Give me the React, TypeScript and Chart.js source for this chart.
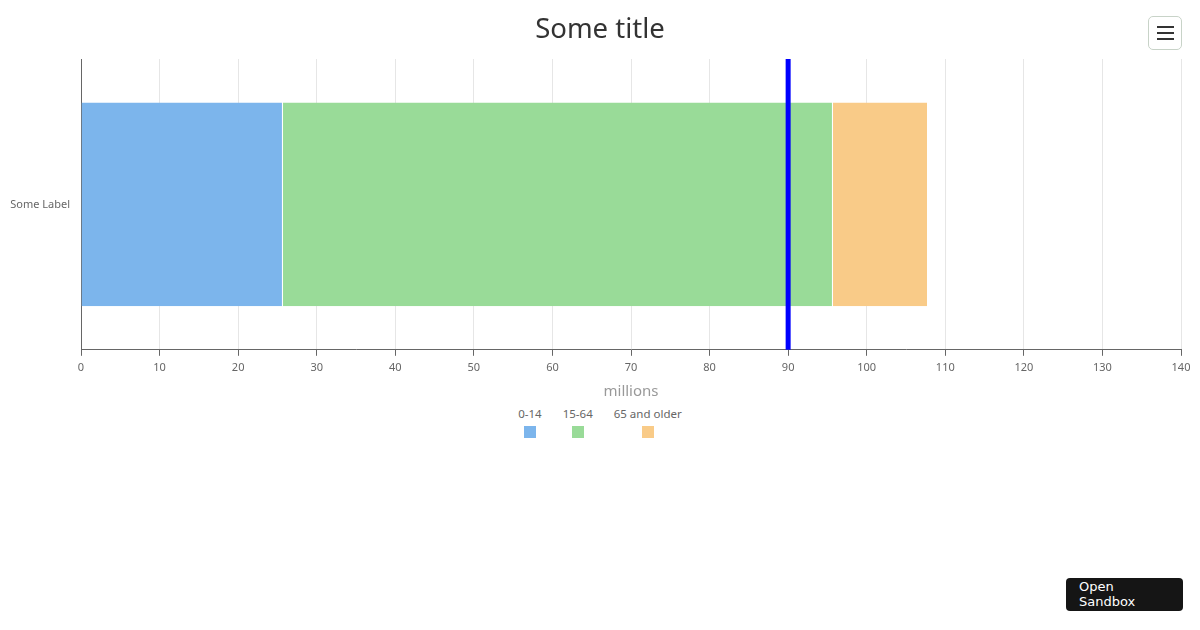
import { useEffect, useRef } from 'react';
import { Chart, registerables } from 'chart.js';
import type { ChartConfiguration, Plugin } from 'chart.js';

Chart.register(...registerables);

const categories = ['Some Label'];
const seriesNames = ['0-14', '15-64', '65 and older'];
const seriesColors = ['#7cb5ec', '#99db98', '#f9cb88'];
const youngValues = [25.7];
const workingValues = [70.0];
const olderValues = [12.1];
const markerValue = [90];
const xTicks = [0, 10, 20, 30, 40, 50, 60, 70, 80, 90, 100, 110, 120, 130, 140];

const FONT = '"Noto Sans", sans-serif';

const markerLine: Plugin<'bar'> = {
  id: 'markerLine',
  afterDatasetsDraw(chart) {
    const { ctx, chartArea, scales } = chart;
    const x = scales.x.getPixelForValue(markerValue[0]);
    ctx.save();
    ctx.strokeStyle = '#0000ff';
    ctx.lineWidth = 5;
    ctx.beginPath();
    ctx.moveTo(x, chartArea.top);
    ctx.lineTo(x, chartArea.bottom);
    ctx.stroke();
    ctx.restore();
  },
};

// title centred on the whole canvas, not on the padded box
const pageTitle: Plugin<'bar'> = {
  id: 'pageTitle',
  afterDraw(chart) {
    const { ctx, width } = chart;
    ctx.save();
    ctx.fillStyle = '#333333';
    ctx.font = `27.5px ${FONT}`;
    ctx.textAlign = 'center';
    ctx.textBaseline = 'middle';
    ctx.fillText('Some title', width / 2, 30);
    ctx.restore();
  },
};

function PopulationChart() {
  const chartRef = useRef<HTMLCanvasElement>(null);
  const chartInstance = useRef<Chart | null>(null);

  useEffect(() => {
    if (!chartRef.current) return;
    const values = [youngValues, workingValues, olderValues];

    const config: ChartConfiguration<'bar'> = {
      type: 'bar',
      data: {
        labels: categories,
        datasets: seriesNames.map((name, i) => ({
          label: name,
          data: values[i],
          backgroundColor: seriesColors[i],
          borderColor: '#ffffff',
          borderWidth: { right: 1 },
          borderSkipped: false,
          barPercentage: 1,
          categoryPercentage: 0.7,
        })),
      },
      options: {
        indexAxis: 'y',
        responsive: false,
        animation: false,
        layout: { padding: { top: 59, right: 19, bottom: 1, left: 0 } },
        plugins: {
          legend: { display: false },
          tooltip: { enabled: false },
          title: { display: false },
        },
        scales: {
          x: {
            type: 'linear',
            stacked: true,
            min: 0,
            max: 140,
            afterBuildTicks: (axis) => {
              axis.ticks = xTicks.map((v) => ({ value: v }));
            },
            grid: { color: '#e6e6e6', tickColor: '#666666', tickLength: 6, drawOnChartArea: true },
            border: { color: '#666666', width: 1 },
            ticks: { color: '#666666', font: { family: FONT, size: 11 }, padding: 5, maxRotation: 0 },
            title: {
              display: true,
              text: 'millions',
              color: '#999999',
              font: { family: FONT, size: 15 },
              padding: { top: 4, bottom: 4 },
            },
          },
          y: {
            stacked: true,
            afterFit: (axis) => {
              axis.width = 81;
            },
            grid: { display: false, drawTicks: false },
            border: { color: '#666666', width: 1 },
            ticks: { color: '#666666', font: { family: FONT, size: 11 }, padding: 11 },
          },
        },
      },
      plugins: [markerLine, pageTitle],
    };

    if (chartInstance.current) chartInstance.current.destroy();
    chartInstance.current = new Chart(chartRef.current, config);
    return () => {
      if (chartInstance.current) chartInstance.current.destroy();
      chartInstance.current = null;
    };
  }, []);

  return (
    <div style={{ position: 'fixed', left: 0, top: 0, width: 1200, height: 630, background: '#fff', fontFamily: FONT }}>
      <canvas ref={chartRef} width={1200} height={406} style={{ position: 'absolute', left: 0, top: 0, width: 1200, height: 406 }} />
      <div
        style={{
          position: 'absolute',
          right: 18,
          top: 16,
          width: 32,
          height: 32,
          border: '1px solid #c8d3c8',
          borderRadius: 5,
          display: 'flex',
          flexDirection: 'column',
          justifyContent: 'center',
          alignItems: 'center',
          gap: 4,
        }}
      >
        {[0, 1, 2].map((i) => (
          <div key={i} style={{ width: 17, height: 2, background: '#333' }} />
        ))}
      </div>
      <div
        style={{
          position: 'absolute',
          left: 0,
          top: 406,
          width: 1200,
          display: 'flex',
          justifyContent: 'center',
          gap: 21,
        }}
      >
        {seriesNames.map((name, i) => (
          <div key={name} style={{ display: 'flex', flexDirection: 'column', alignItems: 'center' }}>
            <span style={{ fontSize: 11.5, color: '#666', lineHeight: '16px' }}>{name}</span>
            <span style={{ width: 12, height: 12, marginTop: 4, background: seriesColors[i] }} />
          </div>
        ))}
      </div>
      <div
        style={{
          position: 'absolute',
          left: 1066,
          top: 578,
          width: 117,
          height: 33,
          boxSizing: 'border-box',
          padding: '1px 13px',
          background: '#151515',
          color: '#fff',
          borderRadius: 4,
          fontFamily: '"DejaVu Sans", sans-serif',
          fontSize: 13,
          lineHeight: '15px',
        }}
      >
        Open Sandbox
      </div>
    </div>
  );
}

export default function App() {
  return <PopulationChart />;
}
